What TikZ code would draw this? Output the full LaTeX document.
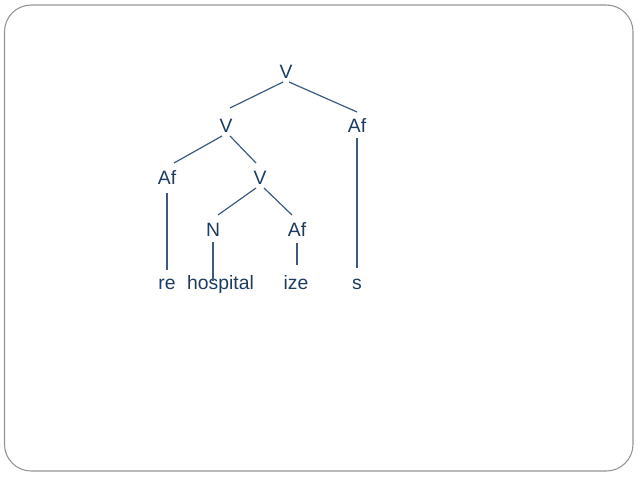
\documentclass[tikz,border=0pt]{standalone}
\usepackage{fontspec}
\setmainfont{Liberation Sans}
\usetikzlibrary{calc}
\definecolor{txt}{HTML}{1B3C63}
\definecolor{ln}{HTML}{3A5A80}
\begin{document}
\begin{tikzpicture}[x=0.75pt,y=-0.75pt,
  lab/.style={text=txt,font=\fontsize{14.5}{17}\selectfont,anchor=base,inner sep=0pt},
  edge/.style={draw=ln,line width=0.9pt}]
\useasboundingbox (0,0) rectangle (638,478);
\draw[gray!85,line width=0.8pt,rounded corners=20pt] (4.5,5) rectangle (633,471);
% nodes
\node[lab] (v0) at (286,79) {V};
\node[lab] (v1) at (226,132) {V};
\node[lab] (af1) at (357,132) {Af};
\node[lab] (af2) at (167,184) {Af};
\node[lab] (v2) at (260,184) {V};
\node[lab] (n) at (213,236) {N};
\node[lab] (af3) at (297,236) {Af};
\node[lab] (re) at (167,289) {re};
\node[lab] (hosp) at (220.5,289) {hospital};
\node[lab] (ize) at (296,289) {ize};
\node[lab] (s) at (357,289) {s};
% edges
\draw[edge] ($(v0.base)+(-3,3)$) -- ($(v1.base)+(4,-24)$);
\draw[edge] ($(v0.base)+(3,3)$) -- ($(af1.base)+(0,-20)$);
\draw[edge] ($(v1.base)+(-4,4)$) -- ($(af2.base)+(7,-21)$);
\draw[edge] ($(v1.base)+(4,4)$) -- ($(v2.base)+(-4,-21)$);
\draw[edge] ($(v2.base)+(-4,4)$) -- ($(n.base)+(5,-21)$);
\draw[edge] ($(v2.base)+(4,4)$) -- ($(af3.base)+(-5,-21)$);
\draw[edge] ($(af2.base)+(0,9)$) -- ($(re.base)+(0,-19)$);
\draw[edge] ($(n.base)+(0,6)$) -- ($(hosp.base)+(-7.5,-8)$);
\draw[edge] ($(af3.base)+(0,7)$) -- ($(ize.base)+(1,-24)$);
\draw[edge] ($(af1.base)+(0,6)$) -- ($(s.base)+(0,-21)$);
\end{tikzpicture}
\end{document}
